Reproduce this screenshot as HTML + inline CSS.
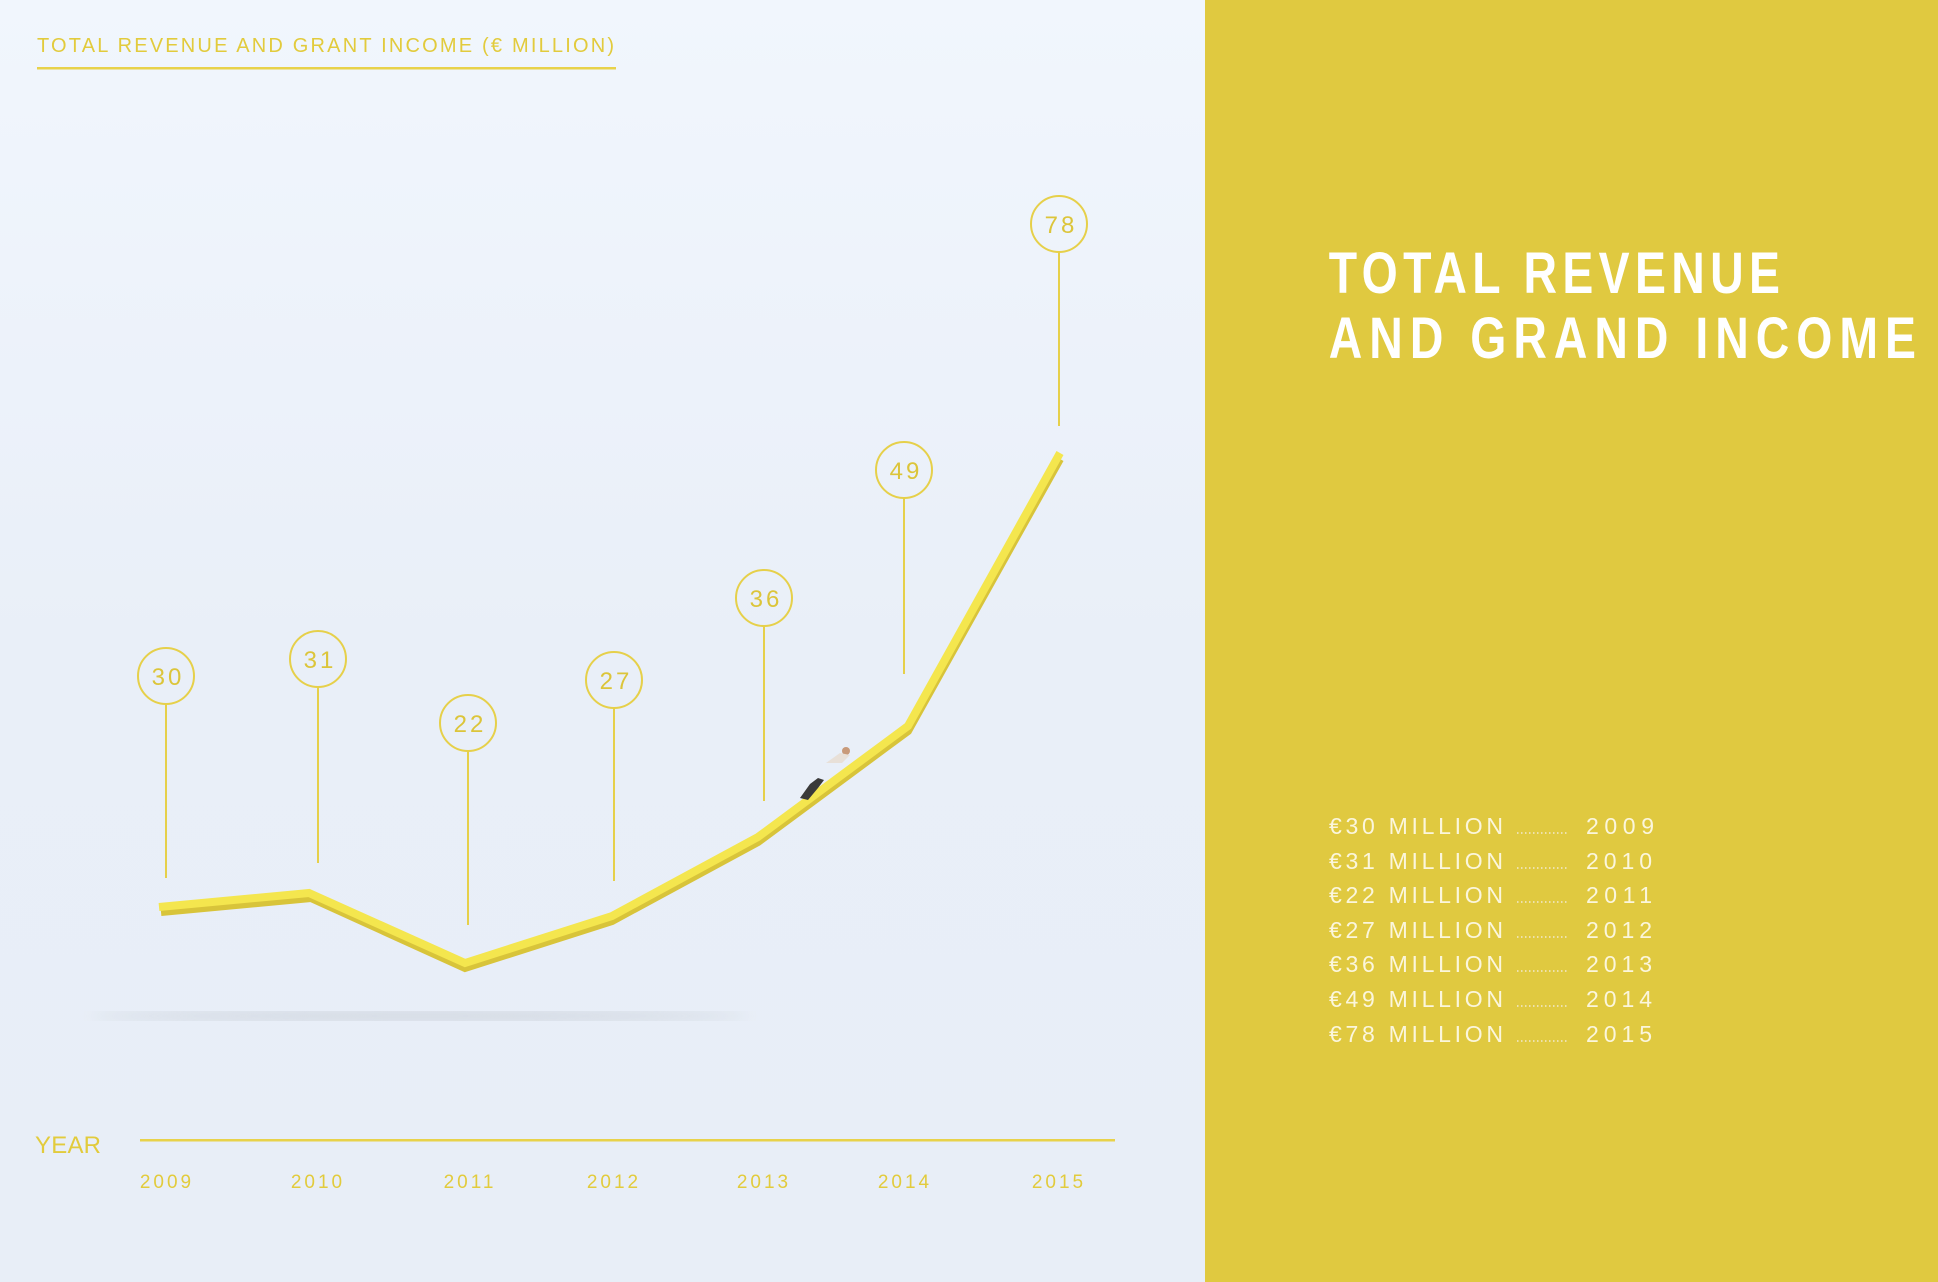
<!DOCTYPE html>
<html><head><meta charset="utf-8"><style>
html,body{margin:0;padding:0;width:1938px;height:1282px;overflow:hidden}
svg{display:block}
text{font-family:"Liberation Sans Narrow","Liberation Sans",sans-serif}
</style></head><body>
<svg width="1938" height="1282" viewBox="0 0 1938 1282" xmlns="http://www.w3.org/2000/svg">
<defs>
<linearGradient id="bg" x1="0" y1="0" x2="0" y2="1">
<stop offset="0" stop-color="#f1f6fd"/><stop offset="0.5" stop-color="#e9eff8"/><stop offset="1" stop-color="#e8eef7"/>
</linearGradient>
<filter id="blur"><feGaussianBlur stdDeviation="7"/></filter>
</defs>
<rect x="0" y="0" width="1205" height="1282" fill="url(#bg)"/>
<rect x="1205" y="0" width="733" height="1282" fill="#e0c940"/>

<text x="37" y="52" font-size="20" fill="#e2cb3c" textLength="577" lengthAdjust="spacing">TOTAL REVENUE AND GRANT INCOME (€ MILLION)</text>
<rect x="37" y="67" width="579" height="2.5" fill="#e8d24a"/>

<ellipse cx="420" cy="1016" rx="330" ry="4" fill="#9aa0aa" opacity="0.45" filter="url(#blur)"/>

<g stroke="#e6d04a" stroke-width="2" fill="none">
<line x1="166" y1="704" x2="166" y2="878"/>
<line x1="318" y1="687" x2="318" y2="863"/>
<line x1="468" y1="751" x2="468" y2="925"/>
<line x1="614" y1="708" x2="614" y2="881"/>
<line x1="764" y1="626" x2="764" y2="801"/>
<line x1="904" y1="498" x2="904" y2="674"/>
<line x1="1059" y1="252" x2="1059" y2="426"/>
<circle cx="166" cy="676" r="28"/>
<circle cx="318" cy="659" r="28"/>
<circle cx="468" cy="723" r="28"/>
<circle cx="614" cy="680" r="28"/>
<circle cx="764" cy="598" r="28"/>
<circle cx="904" cy="470" r="28"/>
<circle cx="1059" cy="224" r="28"/>
</g>
<g font-size="24" fill="#dcc53a" text-anchor="middle" letter-spacing="3">
<text x="168" y="685">30</text><text x="320" y="668">31</text><text x="470" y="732">22</text>
<text x="616" y="689">27</text><text x="766" y="607">36</text><text x="906" y="479">49</text><text x="1061" y="233">78</text>
</g>

<polyline points="161,912 311,898 465,968 612,921 758,842 908,731 1060,459" fill="none" stroke="#d8c43a" stroke-width="8" stroke-linejoin="miter"/>
<polyline points="159,907 309,893 465,963 612,916 758,837 908,726 1060,453" fill="none" stroke="#f4e64e" stroke-width="8" stroke-linejoin="miter"/>
<path d="M800,798 l10,-14 l8,-6 l6,2 l-6,8 l-10,12 z" fill="#3a3a3a"/>
<circle cx="846" cy="751" r="4" fill="#c89a7a"/>
<path d="M826,763 l14,-10 l10,2 l-8,8 z" fill="#e8e0d8"/>

<text x="35" y="1153" font-size="24" fill="#e2cb3c" textLength="66" lengthAdjust="spacing">YEAR</text>
<rect x="140" y="1139" width="975" height="2.5" fill="#e8d24a"/>
<g font-size="19" fill="#e2cb3c" text-anchor="middle" letter-spacing="3">
<text x="167" y="1188">2009</text><text x="318" y="1188">2010</text><text x="470" y="1188">2011</text>
<text x="614" y="1188">2012</text><text x="764" y="1188">2013</text><text x="905" y="1188">2014</text><text x="1059" y="1188">2015</text>
</g>

<g fill="#ffffff" font-weight="bold" font-size="58" transform="scale(0.8,1)">
<text x="1661" y="293" textLength="564" lengthAdjust="spacing">TOTAL REVENUE</text>
<text x="1661" y="358" textLength="734" lengthAdjust="spacing">AND GRAND INCOME</text>
</g>
<g fill="#fbf6dc" font-size="23">
<text x="1329" y="834" textLength="174" lengthAdjust="spacing">€30 MILLION</text>
<text x="1329" y="869" textLength="174" lengthAdjust="spacing">€31 MILLION</text>
<text x="1329" y="903" textLength="174" lengthAdjust="spacing">€22 MILLION</text>
<text x="1329" y="938" textLength="174" lengthAdjust="spacing">€27 MILLION</text>
<text x="1329" y="972" textLength="174" lengthAdjust="spacing">€36 MILLION</text>
<text x="1329" y="1007" textLength="174" lengthAdjust="spacing">€49 MILLION</text>
<text x="1329" y="1042" textLength="174" lengthAdjust="spacing">€78 MILLION</text>
<text x="1586" y="834" textLength="68" lengthAdjust="spacing">2009</text>
<text x="1586" y="869" textLength="66" lengthAdjust="spacing">2010</text>
<text x="1586" y="903" textLength="66" lengthAdjust="spacing">2011</text>
<text x="1586" y="938" textLength="66" lengthAdjust="spacing">2012</text>
<text x="1586" y="972" textLength="66" lengthAdjust="spacing">2013</text>
<text x="1586" y="1007" textLength="66" lengthAdjust="spacing">2014</text>
<text x="1586" y="1042" textLength="66" lengthAdjust="spacing">2015</text>
</g>
<g stroke="#f3ead0" stroke-width="1.5" stroke-dasharray="1.5,2.5">
<line x1="1517" y1="833" x2="1567" y2="833"/>
<line x1="1517" y1="868" x2="1567" y2="868"/>
<line x1="1517" y1="902" x2="1567" y2="902"/>
<line x1="1517" y1="937" x2="1567" y2="937"/>
<line x1="1517" y1="971" x2="1567" y2="971"/>
<line x1="1517" y1="1006" x2="1567" y2="1006"/>
<line x1="1517" y1="1041" x2="1567" y2="1041"/>
</g>
</svg>
</body></html>
